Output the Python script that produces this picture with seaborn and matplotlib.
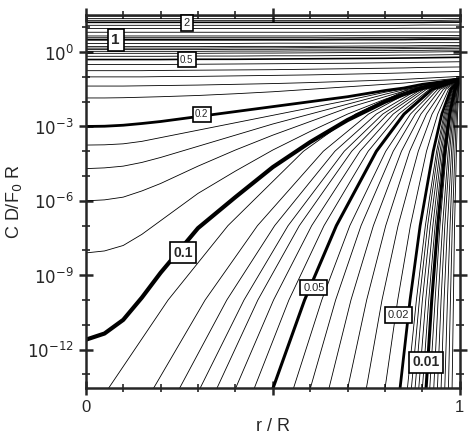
import numpy as np
import matplotlib
matplotlib.use("Agg")
import matplotlib.pyplot as plt
import seaborn as sns

sns.set_style("ticks")
plt.rcParams['font.family'] = ['Liberation Sans', 'DejaVu Sans']

# r grid for larger-time curves
r_grid = [0, .05, .1, .15, .2, .3, .4, .5, .6, .7, .8, .85, .9, .95, 1.0]
# log10(C D / F0 R) for larger dimensionless times
big_curves = {
    0.10: [-11.6, -11.35, -10.8, -9.9, -8.9, -7.1, -5.85, -4.64, -3.63, -2.74, -2.0, -1.7, -1.45, -1.25, -1.1],
    0.12: [-8.1, -8.02, -7.8, -7.35, -6.8, -5.7, -4.8, -3.95, -3.2, -2.5, -1.9, -1.65, -1.42, -1.24, -1.1],
    0.14: [-6.0, -5.96, -5.85, -5.6, -5.3, -4.6, -3.95, -3.35, -2.8, -2.25, -1.8, -1.58, -1.4, -1.23, -1.1],
    0.16: [-4.7, -4.67, -4.6, -4.45, -4.25, -3.8, -3.35, -2.9, -2.5, -2.1, -1.7, -1.52, -1.37, -1.22, -1.1],
    0.18: [-3.75, -3.74, -3.7, -3.6, -3.45, -3.15, -2.85, -2.55, -2.25, -1.95, -1.62, -1.48, -1.33, -1.2, -1.1],
    0.20: [-3.0, -2.99, -2.95, -2.88, -2.8, -2.6, -2.4, -2.2, -2.0, -1.8, -1.55, -1.45, -1.3, -1.2, -1.1],
    0.25: [-1.85, -1.85, -1.84, -1.82, -1.8, -1.75, -1.68, -1.6, -1.5, -1.4, -1.3, -1.25, -1.18, -1.12, -1.05],
    0.30: [-1.37, -1.37, -1.37, -1.36, -1.35, -1.33, -1.3, -1.27, -1.23, -1.18, -1.13, -1.1, -1.06, -1.02, -0.98],
    0.35: [-1.0, -1.0, -1.0, -1.0, -0.99, -0.98, -0.96, -0.94, -0.92, -0.89, -0.86, -0.84, -0.82, -0.8, -0.78],
    0.40: [-0.75, -0.75, -0.75, -0.75, -0.74, -0.73, -0.72, -0.71, -0.69, -0.67, -0.65, -0.64, -0.62, -0.61, -0.6],
    0.45: [-0.5, -0.5, -0.5, -0.5, -0.5, -0.49, -0.48, -0.47, -0.46, -0.45, -0.43, -0.42, -0.41, -0.4, -0.39],
    0.50: [-0.3, -0.3, -0.3, -0.3, -0.3, -0.29, -0.29, -0.28, -0.27, -0.26, -0.25, -0.24, -0.23, -0.22, -0.21],
    0.55: [-0.17, -0.17, -0.17, -0.17, -0.17, -0.16, -0.16, -0.15, -0.15, -0.14, -0.13, -0.12, -0.12, -0.11, -0.1],
    0.60: [-0.05, -0.05, -0.05, -0.05, -0.05, -0.05, -0.04, -0.04, -0.03, -0.02, -0.01, 0.0, 0.0, 0.01, 0.02],
    0.65: [0.03, 0.03, 0.03, 0.03, 0.03, 0.03, 0.04, 0.04, 0.05, 0.05, 0.06, 0.07, 0.07, 0.08, 0.08],
    0.70: [0.1, 0.1, 0.1, 0.1, 0.1, 0.1, 0.11, 0.11, 0.12, 0.12, 0.13, 0.14, 0.14, 0.15, 0.15],
    0.75: [0.16, 0.16, 0.16, 0.16, 0.16, 0.16, 0.17, 0.17, 0.18, 0.18, 0.19, 0.19, 0.2, 0.2, 0.21],
    0.80: [0.22, 0.22, 0.22, 0.22, 0.22, 0.22, 0.23, 0.23, 0.23, 0.24, 0.25, 0.25, 0.26, 0.26, 0.27],
    0.90: [0.35, 0.35, 0.35, 0.35, 0.35, 0.35, 0.35, 0.36, 0.36, 0.36, 0.37, 0.37, 0.38, 0.38, 0.38],
    1.00: [0.5, 0.5, 0.5, 0.5, 0.5, 0.5, 0.5, 0.5, 0.5, 0.51, 0.51, 0.51, 0.52, 0.52, 0.52],
    1.10: [0.58, 0.58, 0.58, 0.58, 0.58, 0.58, 0.58, 0.58, 0.58, 0.58, 0.59, 0.59, 0.59, 0.59, 0.6],
    1.20: [0.65, 0.65, 0.65, 0.65, 0.65, 0.65, 0.65, 0.65, 0.65, 0.66, 0.66, 0.66, 0.66, 0.67, 0.67],
    1.40: [0.8, 0.8, 0.8, 0.8, 0.8, 0.8, 0.8, 0.8, 0.8, 0.8, 0.81, 0.81, 0.81, 0.81, 0.81],
    1.60: [0.95, 0.95, 0.95, 0.95, 0.95, 0.95, 0.95, 0.95, 0.95, 0.95, 0.95, 0.96, 0.96, 0.96, 0.96],
    1.80: [1.08, 1.08, 1.08, 1.08, 1.08, 1.08, 1.08, 1.08, 1.08, 1.08, 1.08, 1.08, 1.09, 1.09, 1.09],
    2.00: [1.2, 1.2, 1.2, 1.2, 1.2, 1.2, 1.2, 1.2, 1.2, 1.2, 1.2, 1.2, 1.2, 1.21, 1.21],
    2.25: [1.28, 1.28, 1.28, 1.28, 1.28, 1.28, 1.28, 1.28, 1.28, 1.28, 1.28, 1.28, 1.28, 1.28, 1.29],
    2.50: [1.35, 1.35, 1.35, 1.35, 1.35, 1.35, 1.35, 1.35, 1.35, 1.35, 1.35, 1.35, 1.35, 1.35, 1.36],
    3.00: [1.45, 1.45, 1.45, 1.45, 1.45, 1.45, 1.45, 1.45, 1.45, 1.45, 1.45, 1.45, 1.45, 1.45, 1.46],
}

# small-time curves: radius at which each curve crosses these log10 levels
levels = [-14, -10, -7, -4, -2.5, -1.5, -1.1]
small_curves = {
    0.085: [.041, .220, .380, .582, .721, .861, 1],
    0.080: [.164, .319, .459, .635, .756, .879, 1],
    0.075: [.235, .377, .505, .666, .777, .889, 1],
    0.070: [.291, .423, .541, .691, .794, .897, 1],
    0.065: [.337, .460, .571, .711, .807, .904, 1],
    0.060: [.388, .502, .604, .733, .822, .911, 1],
    0.055: [.439, .543, .637, .755, .837, .919, 1],
    0.050: [.49, .585, .67, .777, .851, .926, 1],
    0.045: [.546, .631, .706, .802, .868, .934, 1],
    0.040: [.592, .668, .736, .822, .881, .941, 1],
    0.035: [.643, .709, .769, .844, .896, .948, 1],
    0.030: [.694, .751, .802, .866, .911, .956, 1],
    0.025: [.745, .792, .835, .889, .926, .963, 1],
    0.022: [.796, .834, .868, .911, .941, .970, 1],
    0.020: [.837, .867, .894, .929, .952, .976, 1],
    0.018: [.857, .884, .908, .938, .958, .979, 1],
    0.016: [.868, .892, .914, .942, .961, .980, 1],
    0.015: [.878, .90, .921, .947, .964, .982, 1],
    0.013: [.888, .909, .928, .951, .967, .984, 1],
    0.012: [.898, .917, .934, .955, .970, .985, 1],
    0.010: [.908, .925, .941, .960, .973, .987, 1],
    0.009: [.918, .934, .947, .964, .976, .988, 1],
    0.008: [.929, .942, .954, .969, .979, .990, 1],
    0.007: [.939, .950, .960, .973, .982, .991, 1],
    0.006: [.949, .958, .967, .978, .985, .993, 1],
    0.005: [.959, .967, .974, .982, .988, .994, 1],
    0.004: [.969, .975, .980, .987, .991, .996, 1],
    0.003: [.979, .983, .986, .991, .994, .997, 1],
}

bold = {0.10: 3.0, 0.05: 2.2, 0.20: 2.0, 0.02: 2.0, 0.01: 2.2, 0.5: 1.2, 1.0: 1.4, 2.0: 1.2}

labels = [("2", 0.27, 1.17, 8, 'normal'), ("1", 0.08, 0.5, 11, 'bold'),
          ("0.5", 0.27, -0.3, 7, 'normal'), ("0.2", 0.31, -2.5, 7, 'normal'),
          ("0.1", 0.26, -8.1, 10, 'bold'), ("0.05", 0.61, -9.5, 8, 'normal'),
          ("0.02", 0.835, -10.6, 8, 'normal'), ("0.01", 0.91, -12.5, 10, 'bold')]

fig = plt.figure(figsize=(4.74, 4.38), dpi=100)
ax = fig.add_axes([0.181, 0.114, 0.789, 0.852])

for t, vals in big_curves.items():
    sns.lineplot(x=r_grid, y=10 ** np.array(vals), ax=ax, color='k',
                 lw=bold.get(round(t, 3), 0.6), estimator=None, sort=False)
for t, rs in small_curves.items():
    sns.lineplot(x=rs, y=10 ** np.array(levels, dtype=float), ax=ax, color='k',
                 lw=bold.get(round(t, 3), 0.6), estimator=None, sort=False)

ax.set_yscale('log')
ax.set_xlim(0, 1)
ax.set_ylim(10 ** -13.55, 10 ** 1.5)
ax.set_yticks([10.0 ** k for k in (0, -3, -6, -9, -12)])
ax.set_yticklabels([r'$10^{0}$', r'$10^{-3}$', r'$10^{-6}$', r'$10^{-9}$', r'$10^{-12}$'])
ax.set_yticks([10.0 ** k for k in range(-13, 2)], minor=True)
ax.yaxis.set_minor_formatter(matplotlib.ticker.NullFormatter())
ax.set_xticks([0, 0.5, 1])
ax.set_xticklabels(['0', '', '1'])
ax.set_xticks(np.arange(0, 1.01, 0.1), minor=True)
for a in ('x', 'y'):
    ax.tick_params(axis=a, which='major', direction='inout', length=10, width=1.8,
                   top=True, right=True, labelsize=12)
    ax.tick_params(axis=a, which='minor', direction='inout', length=6, width=1.2,
                   top=True, right=True)
for s in ax.spines.values():
    s.set_linewidth(1.8)

for txt, x, y, fs, fw in labels:
    ax.text(x, 10 ** y, txt, fontsize=fs, fontweight=fw, ha='center', va='center',
            bbox=dict(boxstyle='square,pad=0.25', fc='white', ec='black', lw=1.2), zorder=5)

ax.set_xlabel('r / R', fontsize=13, labelpad=2)
ax.set_ylabel(r'C D/F$_0$ R', fontsize=13, labelpad=2)

fig.savefig('out.png', dpi=100)
